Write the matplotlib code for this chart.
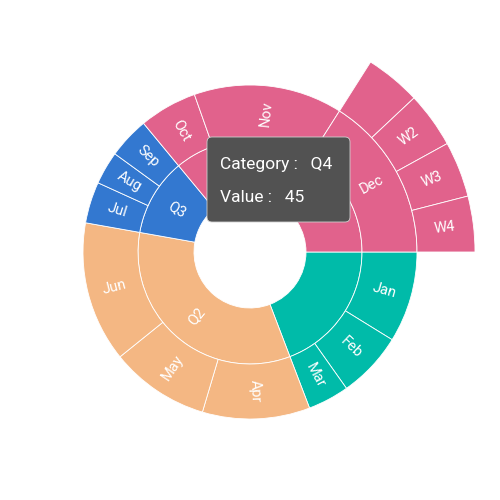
import matplotlib
matplotlib.use("Agg")
import matplotlib.pyplot as plt
from matplotlib.patches import Wedge, FancyBboxPatch
import numpy as np

quarters = ["Q1", "Q2", "Q3", "Q4"]
months = [["Jan", "Feb", "Mar"], ["Apr", "May", "Jun"], ["Jul", "Aug", "Sep"], ["Oct", "Nov", "Dec"]]
month_values = [[11, 8, 5], [13, 12, 17], [5, 4, 5], [7, 18, 20]]
weeks = ["W1", "W2", "W3", "W4"]
week_values = [5, 5, 5, 5]
colors = ["#00BBA9", "#F4B783", "#3378D0", "#E1628C"]
show_q_label = [False, True, True, False]
show_week_label = [False, True, True, True]

fig = plt.figure(figsize=(5, 5), dpi=100)
ax = fig.add_axes([0, 0, 1, 1])
ax.set_xlim(0, 500); ax.set_ylim(0, 500); ax.set_aspect('equal'); ax.axis('off')
cx, cy = 250, 248
r0, r1, r2, r3 = 56, 112, 167, 225
total = sum(sum(m) for m in month_values)
scale = 360.0 / total

def label(text, a1, a2, ri, ro, size=10.5):
    mid = (a1 + a2) / 2
    r = (ri + ro) / 2
    x = cx + r * np.cos(np.radians(mid)); y = cy + r * np.sin(np.radians(mid))
    rot = mid % 360
    if 90 < rot < 270:
        rot -= 180
    ax.text(x, y, text, rotation=rot, ha='center', va='center', color='white',
            fontsize=size, rotation_mode='anchor', family='Roboto')

ang = 360.0  # start at east, go clockwise
for qi, q in enumerate(quarters):
    qsum = sum(month_values[qi])
    qa2 = ang; qa1 = ang - qsum * scale
    ax.add_patch(Wedge((cx, cy), r1, qa1, qa2, width=r1 - r0, facecolor=colors[qi], edgecolor='white', lw=0.6))
    if show_q_label[qi]:
        label(q, qa1, qa2, r0, r1)
    ma = qa2
    for mi, m in enumerate(months[qi]):
        v = month_values[qi][mi]
        m1 = ma - v * scale
        ax.add_patch(Wedge((cx, cy), r2, m1, ma, width=r2 - r1, facecolor=colors[qi], edgecolor='white', lw=0.6))
        label(m, m1, ma, r1, r2)
        if m == "Dec":
            wa = ma
            for wi, w in enumerate(weeks):
                w1 = wa - week_values[wi] * scale
                ax.add_patch(Wedge((cx, cy), r3, w1, wa, width=r3 - r2, facecolor=colors[qi], edgecolor='white', lw=0.6))
                if show_week_label[wi]:
                    label(w, w1, wa, r2, r3)
                wa = w1
        ma = m1
    ang = qa1

# tooltip
ax.add_patch(FancyBboxPatch((207, 500 - 222), 143, 85, boxstyle="round,pad=0,rounding_size=5",
                            facecolor='#525252', edgecolor='#d0d0d0', lw=0.6, zorder=5))
ax.text(220, 500 - 164, "Category :   Q4", color='white', fontsize=12.5, va='center', zorder=6, family='Roboto')
ax.text(220, 500 - 197, "Value :   45", color='white', fontsize=12.5, va='center', zorder=6, family='Roboto')

fig.savefig("out.png", dpi=100)
